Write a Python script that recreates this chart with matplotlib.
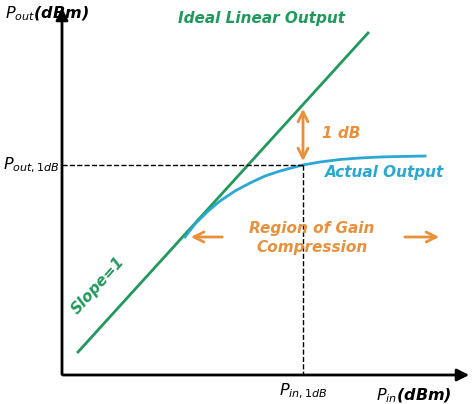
import matplotlib
matplotlib.use("Agg")
import matplotlib.pyplot as plt

ideal_x = [78, 368]
ideal_y = [352, 33]
actual_x = [185, 195, 207, 220, 235, 250, 265, 280, 295, 303, 320, 340, 360, 380, 400, 425]
actual_y = [237, 224, 212, 201, 191, 183, 176, 171, 167, 165, 162, 159.5, 158, 157, 156.5, 156]
p_in_1db = 303
p_out_1db = 165

GREEN = "#1f9a5c"; BLUE = "#2aa8d4"; ORANGE = "#e8913a"
fig = plt.figure(figsize=(4.74, 4.04), dpi=100)
ax = fig.add_axes([0, 0, 1, 1])
ax.set_xlim(0, 474); ax.set_ylim(404, 0); ax.axis("off")

ap = dict(arrowstyle="-|>", color="black", lw=2, mutation_scale=18)
ax.annotate("", xy=(62, 5), xytext=(62, 377), arrowprops=ap)
ax.annotate("", xy=(472, 375), xytext=(60, 375), arrowprops=ap)

ax.plot(ideal_x, ideal_y, color=GREEN, lw=2)
ax.plot(actual_x, actual_y, color=BLUE, lw=2)
ax.plot([62, p_in_1db], [p_out_1db]*2, "k--", lw=1)
ax.plot([p_in_1db]*2, [p_out_1db, 375], "k--", lw=1)

oap = dict(arrowstyle="->", color=ORANGE, lw=2, mutation_scale=18)
ax.annotate("", xy=(303, 106), xytext=(303, 164), arrowprops=dict(arrowstyle="<->", color=ORANGE, lw=2, mutation_scale=18))
ax.annotate("", xy=(188, 237), xytext=(225, 237), arrowprops=oap)
ax.annotate("", xy=(442, 237), xytext=(402, 237), arrowprops=oap)

kw = dict(fontweight="bold", fontstyle="italic")
ax.text(5, 14, r"$P_{out}$(dBm)", fontsize=11.5, va="center", **kw)
ax.text(262, 19, "Ideal Linear Output", color=GREEN, fontsize=11, ha="center", va="center", **kw)
ax.text(322, 133, "1 dB", color=ORANGE, fontsize=11, va="center", **kw)
ax.text(385, 172, "Actual Output", color=BLUE, fontsize=11, ha="center", va="center", **kw)
ax.text(312, 238, "Region of Gain\nCompression", color=ORANGE, fontsize=11, ha="center", va="center", linespacing=1.3, **kw)
ax.text(98, 285, "Slope=1", color=GREEN, fontsize=11, ha="center", va="center", rotation=48, **kw)
ax.text(3, 165, r"$P_{out,1dB}$", fontsize=11.5, va="center", **kw)
ax.text(303, 391, r"$P_{in,1dB}$", fontsize=11.5, ha="center", va="center", **kw)
ax.text(376, 396, r"$P_{in}$(dBm)", fontsize=11.5, va="center", **kw)
fig.savefig("out.png", dpi=100)
